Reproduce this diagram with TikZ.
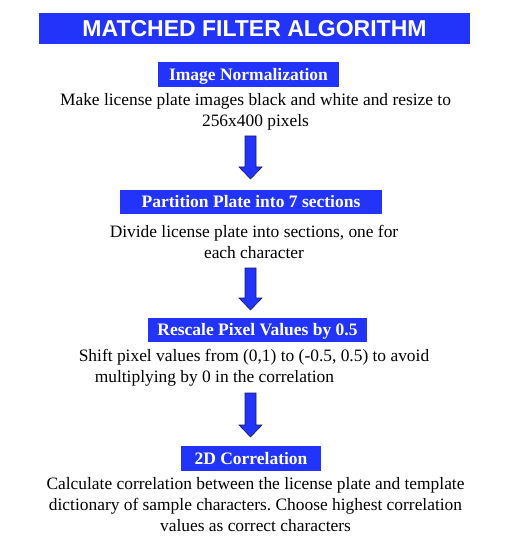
\documentclass[tikz,border=0pt]{standalone}
\usepackage{fontspec}
\setmainfont{Liberation Serif}
\newfontfamily\headfont{Liberation Sans}
\usetikzlibrary{positioning,calc}
\definecolor{plateblue}{RGB}{34,52,250}
\definecolor{arrowedge}{RGB}{25,25,90}
\frenchspacing
\tikzset{
	headbox/.style={fill=plateblue,text=white,inner sep=0pt,text depth=0pt},
	stepbox/.style={headbox,font=\fontsize{17.5bp}{20bp}\selectfont\bfseries,text height=11.6bp,minimum height=24.5bp},
	desc/.style={inner sep=0pt,align=center,font=\fontsize{17.4bp}{21bp}\selectfont},
	flowarrow/.style={fill=plateblue,draw=arrowedge,line width=0.6bp,line join=miter}
}
\newcommand\flowarrow[2]{%
	\draw[flowarrow] let \p1=(#1),\p2=(#2) in
		(\x1-5.5bp,\y1)--(\x1+5.5bp,\y1)--(\x1+5.5bp,\y2+12bp)--(\x1+11.5bp,\y2+12bp)
		--(\x2,\y2)--(\x1-11.5bp,\y2+12bp)--(\x1-5.5bp,\y2+12bp)--cycle;}
\begin{document}
\begin{tikzpicture}[x=1bp,y=-1bp]
	\useasboundingbox(0,0)rectangle(511,552);
	\node[headbox,minimum width=431bp,minimum height=31bp,text height=16.5bp,
		font=\headfont\bfseries\fontsize{23bp}{26bp}\selectfont](title)at(254.5,28.5){MATCHED FILTER ALGORITHM};
	\node[stepbox,minimum width=181bp](norm)at(248.5,74.5){Image Normalization};
	\node[desc,below=6.5bp of norm,xshift=7bp](normtxt){Make license plate images black and white and resize to\\256x400 pixels};
	\node[stepbox,minimum width=262bp](part)at(251,202){Partition Plate into 7 sections};
	\node[desc,below=10.5bp of part,xshift=3bp](parttxt){Divide license plate into sections, one for\\each character};
	\node[stepbox,minimum width=219bp](scale)at(257.5,330){Rescale Pixel Values by 0.5};
	\node[desc,align=left,below=7bp of scale,xshift=-3.5bp](scaletxt){Shift pixel values from (0,1) to (-0.5, 0.5) to avoid\\\hspace*{16bp}multiplying by 0 in the correlation};
	\node[stepbox,minimum width=140bp](corr)at(251,458.5){2D Correlation};
	\node[desc,below=6.5bp of corr,xshift=4.5bp](corrtxt){Calculate correlation between the license plate and template\\dictionary of sample characters. Choose highest correlation\\values as correct characters};
	% arrows between the steps
	\coordinate(normout)at(250.5,136);
	\coordinate(partin)at(250.5,179);
	\coordinate(partout)at(250.5,268);
	\coordinate(scalein)at(250.5,310);
	\coordinate(scaleout)at(250.5,393);
	\coordinate(corrin)at(250.5,437);
	\flowarrow{normout}{partin}
	\flowarrow{partout}{scalein}
	\flowarrow{scaleout}{corrin}
\end{tikzpicture}
\end{document}
